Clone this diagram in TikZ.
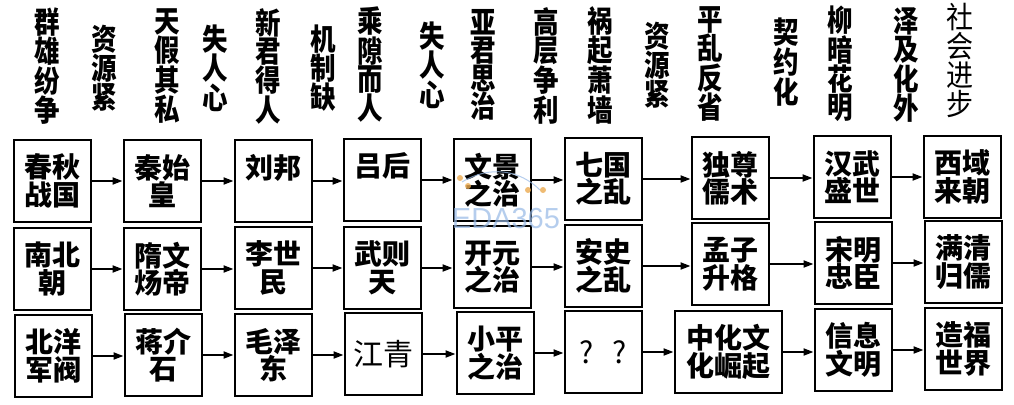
\documentclass[tikz,border=0pt]{standalone}
\usepackage{fontspec}
\newfontfamily\cjk{Noto Sans CJK SC}
\newfontfamily\wmfont{Liberation Sans}
\usetikzlibrary{arrows.meta}
\definecolor{wmblue}{RGB}{150,185,230}
\definecolor{wmorange}{RGB}{235,170,80}
\begin{document}
\begin{tikzpicture}[x=1pt,y=-1pt,
  hdr/.style={font=\cjk\bfseries\fontsize{30}{28}\selectfont, align=center, inner sep=0pt, xscale=0.85},
  hdrlight/.style={font=\cjk\fontsize{30}{29}\selectfont, align=center, inner sep=0pt, xscale=0.9},
  box/.style={draw, line width=2pt, minimum width=77pt, minimum height=82pt, inner sep=0pt, align=center,
              font=\cjk\bfseries\fontsize{28}{27.5}\selectfont},
  boxlight/.style={box, font=\cjk\fontsize{30}{30}\selectfont},
  widebox/.style={box, minimum width=107pt},
  arr/.style={-{Triangle[length=10pt,width=7pt]}, line width=2pt}
]
\useasboundingbox (0,0) rectangle (1014,404);
\fill[white] (0,0) rectangle (1014,404);

% headers
\node[hdr] (h1) at (47,66) {群\\雄\\纷\\争};
\node[hdr] (h2) at (104,68) {资\\源\\紧};
\node[hdr] (h3) at (167,66) {天\\假\\其\\私};
\node[hdr] (h4) at (215,68) {失\\人\\心};
\node[hdr] (h5) at (268,66) {新\\君\\得\\人};
\node[hdr] (h6) at (323,68) {机\\制\\缺};
\node[hdr] (h7) at (370,65) {乘\\隙\\而\\人};
\node[hdr] (h8) at (432,65) {失\\人\\心};
\node[hdr] (h9) at (483,65) {亚\\君\\思\\治};
\node[hdr] (h10) at (546,66) {高\\层\\争\\利};
\node[hdr] (h11) at (600,65) {祸\\起\\萧\\墙};
\node[hdr] (h12) at (657,65) {资\\源\\紧};
\node[hdr] (h13) at (710,64) {平\\乱\\反\\省};
\node[hdr] (h14) at (786,62) {契\\约\\化};
\node[hdr] (h15) at (840,64) {柳\\暗\\花\\明};
\node[hdr] (h16) at (906,65) {泽\\及\\化\\外};
\node[hdrlight] (h17) at (960,60) {社\\会\\进\\步};

% row 1
\node[box] (a1) at (52,181) {春秋\\战国};
\node[box] (a2) at (162,181) {秦始\\皇};
\node[box] (a3) at (273,181) {刘邦\\\phantom{刘}};
\node[box] (a4) at (382,180) {吕后\\\phantom{吕}};
\node[box] (a5) at (492,180) {文景\\之治};
\node[box] (a6) at (603,179) {七国\\之乱};
\node[box] (a7) at (730,178) {独尊\\儒术};
\node[box] (a8) at (852,177) {汉武\\盛世};
\node[box] (a9) at (962,177) {西域\\来朝};

% row 2
\node[box] (b1) at (52,269) {南北\\朝};
\node[box] (b2) at (162,269) {隋文\\炀帝};
\node[box] (b3) at (273,268) {李世\\民};
\node[box] (b4) at (382,268) {武则\\天};
\node[box] (b5) at (492,267) {开元\\之治};
\node[box] (b6) at (603,266) {安史\\之乱};
\node[box] (b7) at (730,264) {孟子\\升格};
\node[box] (b8) at (853,263) {宋明\\忠臣};
\node[box] (b9) at (963,262) {满清\\归儒};

% row 3
\node[box] (c1) at (53,356) {北洋\\军阀};
\node[box] (c2) at (163,355) {蒋介\\石};
\node[box] (c3) at (273,355) {毛泽\\东};
\node[boxlight] (c4) at (383,354) {江青};
\node[box] (c5) at (495,353) {小平\\之治};
\node[boxlight] (c6) at (603,352) {?\hspace{18pt}?};
\node[widebox] (c7) at (728,352) {中化文\\化崛起};
\node[box] (c8) at (853,350) {信息\\文明};
\node[box] (c9) at (963,349) {造福\\世界};

% arrows (horizontal, from each box's right side)
\foreach \r in {a,b,c}{
  \foreach \i [evaluate=\i as \j using int(\i+1)] in {1,...,8}{
    \draw[arr] (\r\i.east) -- (\r\i.east -| \r\j.west);
  }
}

% watermark
\node[font=\wmfont\fontsize{29}{29}\selectfont, text=wmblue, opacity=0.7, inner sep=0pt] (wm) at (506,219) {EDA365};
\draw[wmblue, line width=1pt, opacity=0.7] (462,182) .. controls (490,165) and (520,170) .. (540,190);
\fill[wmorange, opacity=0.8] (460,178) circle (3pt) (468,186) circle (3pt) (528,190) circle (3pt) (543,190) circle (3pt);
\end{tikzpicture}
\end{document}
